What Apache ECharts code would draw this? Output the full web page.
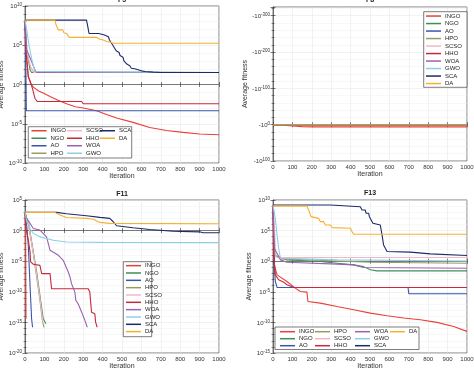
<!DOCTYPE html>
<html><head><meta charset="utf-8">
<script src="https://cdn.jsdelivr.net/npm/echarts@6.0.0/dist/echarts.min.js"></script>
<style>html,body{margin:0;padding:0;background:#fff}#c{width:474px;height:370px}</style>
</head><body><div id="c"></div>
<script>
// ---------- names & colours ----------
const names = ['INGO','NGO','AO','HPO','SCSO','HHO','WOA','GWO','SCA','DA'];
const colors = ['#e8403a','#3a8f5a','#3a55b0','#9a9a62','#f2b8c8','#c8283c','#9a62b0','#8ccfe8','#1c2a6a','#f5b030'];
const xTicks = [0,100,200,300,400,500,600,700,800,900,1000];

// ---------- F5 : [iteration, average fitness] ----------
const f5_INGO = [[0,1.6e8],[5,1e5],[9,1.4e3],[17,10],[34,0.9],[43,0.46],[70,0.15],[94,0.08],[129,0.03],[170,0.01],[214,3.5e-3],[260,1.5e-3],[300,1e-3],[369,4.5e-4],[420,1.5e-4],[472,5.3e-5],[557,1.5e-5],[643,3.4e-6],[729,1.4e-6],[815,7.9e-7],[900,4.9e-7],[1000,4e-7]];
const f5_NGO  = [[0,1.6e8],[5,2.5e4],[17,2.2e3],[26,72],[34,34],[1000,34]];
const f5_AO   = [[0,1.6e8],[4,1e3],[7,4.5e-4],[1000,4.5e-4]];
const f5_HPO  = [[0,1.6e8],[9,9.5e3],[26,195],[43,45],[51,34],[1000,34]];
const f5_SCSO = [[0,1.6e8],[12,1e4],[30,150],[45,34],[1000,34]];
const f5_HHO  = [[0,1.6e8],[6,1e4],[17,10.5],[38,0.34],[51,0.018],[63,6.9e-3],[292,6.9e-3],[300,3.5e-3],[1000,3.5e-3]];
const f5_WOA  = [[0,1.6e8],[9,2.5e4],[34,830],[51,72],[60,34],[1000,34]];
const f5_GWO  = [[0,1.6e8],[9,9e6],[22,6.8e4],[34,2.2e3],[51,45],[60,34],[1000,34]];
const f5_SCA  = [[0,1.6e8],[317,1.6e8],[322,4e7],[330,3.2e6],[380,3.2e6],[385,2e6],[410,2e6],[415,1.2e6],[430,1.2e6],[435,5e5],[445,3e5],[455,8e4],[465,5e4],[470,2e4],[485,1.2e4],[490,5e3],[505,3e3],[510,1e3],[520,8e2],[525,4e2],[540,2.5e2],[548,1.2e2],[565,100],[575,70],[600,55],[620,45],[660,38],[700,34],[1000,34]];
const f5_DA   = [[0,1.6e8],[154,1.6e8],[160,4e7],[172,9e6],[195,9e6],[200,4e6],[214,3.2e6],[222,3.2e6],[228,1e6],[369,1e6],[386,5.8e5],[400,5e5],[420,3e5],[440,2.5e5],[455,1.8e5],[1000,1.8e5]];

// ---------- F8 ----------
const f8_INGO = [[0,-1],[50,-20],[100,-3e3],[150,-3e5],[200,-1e6],[1000,-1e6]];
const f8_NGO  = [[0,-1],[1000,-1]];
const f8_AO   = [[0,-1],[1000,-1]];
const f8_HPO  = [[0,-1],[1000,-1]];
const f8_SCSO = [[0,-1],[1000,-1]];
const f8_HHO  = [[0,-1],[1000,-1]];
const f8_WOA  = [[0,-1],[1000,-1]];
const f8_GWO  = [[0,-1],[1000,-1]];
const f8_SCA  = [[0,-1],[1000,-1]];
const f8_DA   = [[0,-1],[1000,-1]];

// ---------- F11 ----------
const f11_INGO = [[0,950],[3,2],[5,4e-15]];
const f11_NGO  = [[0,950],[9,98],[17,28],[43,3.3e-4],[60,1.7e-7],[77,2.5e-11],[94,3.8e-15],[108,5.8e-16]];
const f11_AO   = [[0,950],[9,5],[17,4e-3],[26,1.1e-9],[34,4e-15],[39,1.6e-16]];
const f11_HPO  = [[0,950],[9,60],[17,15],[43,1.5e-4],[60,2.6e-8],[77,4e-12],[91,1.1e-15],[98,1.6e-16]];
const f11_SCSO = [[0,950],[9,80],[17,20],[43,2e-4],[60,6e-8],[77,8e-12],[94,5e-16]];
const f11_HHO  = [[0,950],[3,50],[5,2.2],[17,0.027],[26,3.3e-4],[29,7.6e-6],[43,3.2e-6],[77,2.1e-6],[86,9.3e-8],[129,9.3e-8],[137,3.2e-10],[326,3.2e-10],[334,9e-11],[343,4.7e-14],[360,2.5e-14],[364,1.1e-15],[372,1.6e-16]];
const f11_WOA  = [[0,950],[9,98],[43,2.2],[77,1.2],[111,0.095],[129,6.3e-4],[172,9.3e-5],[197,1.4e-5],[223,1.7e-7],[232,2.6e-8],[240,2.1e-9],[257,9e-11],[262,4e-12],[274,1.1e-12],[292,4.7e-14],[309,2e-15],[321,1.6e-16]];
const f11_GWO  = [[0,950],[9,28],[26,2.2],[43,0.34],[77,0.095],[146,0.027],[214,0.014],[400,0.012],[1000,0.011]];
const f11_SCA  = [[0,950],[163,950],[214,580],[317,270],[386,145],[437,100],[455,28],[472,6.2],[557,2.9],[643,1.5],[763,0.8],[900,0.63],[918,0.44],[1000,0.44]];
const f11_DA   = [[0,950],[154,950],[180,350],[214,140],[317,98],[352,70],[386,22],[437,15],[1000,13]];

// ---------- F13 ----------
const f13_INGO = [[0,1.5e9],[3,2e4],[7,0.25],[21,5.9e-3],[72,4.8e-4],[115,4e-5],[141,1.1e-5],[175,8.9e-6],[180,2.6e-7],[244,1.4e-7],[330,4e-8],[416,1.2e-8],[502,3.3e-9],[588,1.2e-9],[674,5.1e-10],[759,2.7e-10],[845,1e-10],[931,2.2e-11],[1000,3.4e-12]];
const f13_NGO  = [[0,1.5e9],[7,1e3],[12,8.3],[72,1.65],[244,0.9],[330,0.47],[416,0.25],[467,0.13],[502,0.039],[536,0.026],[1000,0.026]];
const f13_AO   = [[0,1.5e9],[7,0.072],[12,4.8e-4],[21,5.1e-5],[696,5.1e-5],[700,4.7e-6],[1000,4.7e-6]];
const f13_HPO  = [[0,1.5e9],[7,10.7],[38,2.4],[330,1.1],[502,0.69],[1000,0.47]];
const f13_SCSO = [[0,1.5e9],[5,1e7],[15,5],[29,4],[1000,4]];
const f13_HHO  = [[0,1.5e9],[3,38],[12,5.9e-3],[29,9.1e-4],[55,3.8e-4],[72,1.4e-4],[107,5.1e-5],[1000,5.1e-5]];
const f13_WOA  = [[0,1.5e9],[7,130],[38,1.65],[72,0.69],[330,0.33],[416,0.25],[467,0.093],[1000,0.072]];
const f13_GWO  = [[0,1.5e9],[12,1e7],[21,2e4],[29,130],[38,3.1],[158,2.4],[330,1.65],[1000,1.1]];
const f13_SCA  = [[0,1.5e9],[296,1.5e9],[304,8e8],[450,8e8],[459,2.3e8],[475,2.3e8],[480,6.8e7],[493,6.8e7],[497,1.9e7],[502,1.9e7],[506,5.5e6],[510,5.5e6],[515,1.6e6],[519,1.6e6],[553,8.3e5],[562,2e4],[570,460],[579,130],[588,38],[708,30],[716,20],[811,16],[820,8.3],[1000,8.3]];
const f13_DA   = [[0,1e9],[175,1e9],[184,2.3e8],[196,1.9e7],[235,1e7],[244,2.9e6],[261,2.9e6],[270,8.3e5],[296,8.3e5],[304,3.1e5],[399,2.4e5],[407,6.9e4],[416,2.5e4],[1000,2.5e4]];

const panels = [
  {title:'F5',  data:[f5_INGO,f5_NGO,f5_AO,f5_HPO,f5_SCSO,f5_HHO,f5_WOA,f5_GWO,f5_SCA,f5_DA], kind:'log', min:-10, max:10},
  {title:'F8',  data:[f8_INGO,f8_NGO,f8_AO,f8_HPO,f8_SCSO,f8_HHO,f8_WOA,f8_GWO,f8_SCA,f8_DA], kind:'neglog', min:-100, max:324},
  {title:'F11', data:[f11_INGO,f11_NGO,f11_AO,f11_HPO,f11_SCSO,f11_HHO,f11_WOA,f11_GWO,f11_SCA,f11_DA], kind:'log', min:-20, max:5},
  {title:'F13', data:[f13_INGO,f13_NGO,f13_AO,f13_HPO,f13_SCSO,f13_HHO,f13_WOA,f13_GWO,f13_SCA,f13_DA], kind:'log', min:-15, max:10}
];

// ---------- layout (pixels) ----------
const grids = [
  {left:25, top:6, width:194, height:157},
  {left:273, top:7, width:194, height:154},
  {left:25, top:200, width:194, height:153},
  {left:273, top:200, width:194, height:153}
];
const titleTops = [-3, -3, 190.5, 190];

const AX = '#262626', TXT = '#333', GRID = '#e4e4e4', MINOR = '#f1f1f1';
const rich = {
  b: {fontSize:6, lineHeight:7, verticalAlign:'bottom', color:TXT},
  s: {fontSize:4.5, lineHeight:5.5, verticalAlign:'top', color:TXT}
};
const tickStyle = {show:true, inside:true, length:2.5, lineStyle:{color:AX, width:0.6}};

const option = {
  backgroundColor:'#fff',
  animation:false,
  textStyle:{fontFamily:'Liberation Sans, Arial, sans-serif'},
  title: panels.map((p,i)=>({
    text:p.title, left:grids[i].left+grids[i].width/2, top:titleTops[i], textAlign:'center', padding:0,
    textStyle:{fontSize:7, fontWeight:'bold', color:'#222', fontFamily:'Liberation Sans, Arial, sans-serif'}
  })),
  grid: grids.map(g=>Object.assign({show:true, borderColor:AX, borderWidth:0.6, backgroundColor:'#fff', containLabel:false, outerBoundsMode:'none'}, g)),
  xAxis: panels.map((p,i)=>({
    type:'value', gridIndex:i, min:0, max:1000, interval:100,
    name:'Iteration', nameLocation:'middle', nameGap:10,
    nameTextStyle:{fontSize:7, color:TXT},
    axisLabel:{fontSize:6, color:TXT, margin:3, formatter: v => xTicks.includes(v) ? String(v) : ''},
    axisLine:{show:true, lineStyle:{color:AX, width:0.6}},
    axisTick:tickStyle,
    splitLine:{show:true, lineStyle:{color:GRID, width:0.5}}
  })).concat(panels.map((p,i)=>({
    type:'value', gridIndex:i, position:'top', min:0, max:1000, interval:100,
    axisLabel:{show:false}, axisLine:{show:false}, axisTick:tickStyle, splitLine:{show:false}
  }))),
  yAxis: panels.map((p,i)=>({
    type:'value', gridIndex:i, min:p.min, max:p.max, interval:p.kind==='log'?5:100,
    name:'Average fitness', nameLocation:'middle', nameGap: p.kind==='log'?17:23,
    nameTextStyle:{fontSize:7, color:TXT},
    axisLabel:{margin:3, showMaxLabel: p.kind==='log', rich:rich,
      formatter: p.kind==='log' ? (v => '{b|10}{s|' + v + '}')
                                : (v => (v % 100 === 0) ? '{b|-10}{s|' + (0 - v) + '}' : '')},
    axisLine:{show:true, lineStyle:{color:AX, width:0.6}},
    axisTick:tickStyle,
    minorTick:{show:true, splitNumber:5, length:1.5, lineStyle:{color:AX, width:0.5}},
    splitLine:{show:true, lineStyle:{color:GRID, width:0.5}},
    minorSplitLine:{show:true, lineStyle:{color:MINOR, width:0.5}}
  })).concat(panels.map((p,i)=>({
    type:'value', gridIndex:i, position:'right', min:p.min, max:p.max, interval:p.kind==='log'?5:100,
    axisLabel:{show:false}, axisLine:{show:false}, axisTick:tickStyle,
    minorTick:{show:true, splitNumber:5, length:1.5, lineStyle:{color:AX, width:0.5}},
    splitLine:{show:false}, minorSplitLine:{show:false}
  }))),
  legend: [],
  graphic: [],
  series: []
};

panels.forEach((p,i)=>{
  p.data.forEach((arr,k)=>{
    option.series.push({
      type:'line', name:names[k], xAxisIndex:i, yAxisIndex:i,
      data: arr.map(([x,y]) => [x, p.kind==='log' ? Math.log10(y) : -Math.log10(-y)]),
      symbol:'none', showSymbol:false, smooth:false, clip:true,
      lineStyle:{color:colors[k], width:1.1}, itemStyle:{color:colors[k]},
      z:2
    });
  });
});

// legends (column-major like the reference)
function leg(data, left, top, rowH){
  return {data, left, top, orient:'vertical', padding:0, itemGap:0, itemWidth:15, itemHeight:1.5,
          icon:'rect', selectedMode:false, z:6,
          textStyle:{fontSize:6, color:'#222', lineHeight:rowH, padding:[0,0,0,-1]}};
}
option.legend = [
  leg(['INGO','NGO','AO','HPO'], 31.5, 127, 7.5),
  leg(['SCSO','HHO','WOA','GWO'], 67, 127, 7.5),
  leg(['SCA','DA'], 100, 127, 7.5),
  leg(names, 426, 12.3, 7.5),
  leg(names, 126, 262, 7.33),
  leg(['INGO','NGO','AO'], 280, 328.2, 7),
  leg(['HPO','SCSO','HHO'], 315, 328.2, 7),
  leg(['WOA','GWO','SCA'], 355, 328.2, 7),
  leg(['DA'], 390, 328.2, 7)
];
const boxes = [[28.3,126.7,103.4,31.3],[423.7,11.7,43.3,75.6],[123.3,261.7,28.4,75],[275,327,144,22.5]];
option.graphic = boxes.map(b=>({type:'rect', z:5, silent:true,
  shape:{x:b[0], y:b[1], width:b[2], height:b[3]},
  style:{fill:'#fff', stroke:AX, lineWidth:0.6}}));

const chart = echarts.init(document.getElementById('c'), null, {renderer:'canvas'});
chart.setOption(option);
</script>
</body></html>
